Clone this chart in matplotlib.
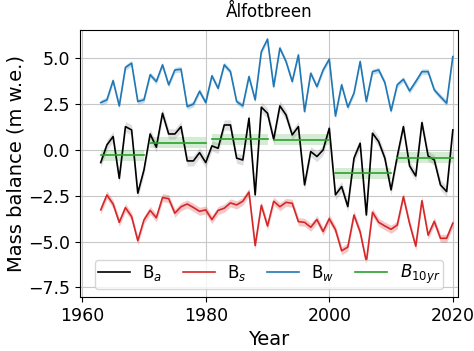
import numpy as np
import matplotlib
matplotlib.use('Agg')
import matplotlib.pyplot as plt

# years of the record
years = list(range(1963, 2021))

# winter balance (m w.e.)
bw = [2.58, 2.73, 3.78, 2.40, 4.50, 4.73, 2.64, 2.73, 4.10, 3.73,
      4.64, 3.55, 4.36, 4.40, 2.36, 2.50, 3.20, 2.58, 4.04, 3.36,
      4.64, 4.27, 2.64, 2.40, 4.00, 2.73, 5.36, 6.04, 3.45, 5.55,
      4.82, 3.73, 5.18, 2.09, 4.18, 3.45, 4.36, 4.95, 1.85, 3.55,
      2.33, 3.10, 4.82, 2.64, 4.27, 4.36, 3.67, 2.13, 3.55, 3.85,
      3.22, 3.73, 4.27, 4.27, 3.27, 2.90, 2.55, 5.09]

# summer balance (m w.e.)
bs = [-3.27, -2.46, -2.95, -3.95, -3.15, -3.64, -4.95, -3.82, -3.30, -3.70,
      -2.60, -2.66, -3.45, -3.10, -2.95, -3.14, -3.35, -3.27, -3.80, -3.30,
      -3.18, -2.89, -3.00, -2.80, -2.30, -5.22, -3.02, -4.15, -2.80, -3.10,
      -2.86, -2.91, -3.91, -3.95, -4.22, -3.80, -4.45, -3.75, -4.35, -5.50,
      -5.30, -3.55, -4.48, -6.10, -3.40, -3.95, -4.15, -4.33, -4.10, -2.55,
      -4.02, -5.25, -2.77, -4.65, -3.90, -4.82, -4.82, -4.00]

# annual balance (m w.e.)
ba = [-0.69, 0.27, 0.73, -1.55, 1.27, 1.09, -2.36, -1.09, 0.87, 0.15,
      2.00, 0.87, 0.87, 1.27, -0.60, -0.60, -0.15, -0.69, 0.22, 0.09,
      1.36, 1.36, -0.45, -0.55, 1.73, -2.45, 2.33, 2.00, 0.58, 2.40,
      1.91, 0.82, 1.27, -1.91, -0.09, -0.36, 0.00, 1.18, -2.45, -2.00,
      -3.09, -0.45, 0.36, -3.55, 0.91, 0.45, -0.45, -2.18, -0.36, 1.27,
      -0.87, -1.42, 1.49, -0.33, -0.55, -1.91, -2.27, 1.09]

# decadal means
dec_start = [1963, 1971, 1981, 1991, 2001, 2011]
dec_end = [1970, 1980, 1990, 2000, 2010, 2020]
dec_val = [-0.29, 0.40, 0.58, 0.56, -1.26, -0.42]

fig = plt.figure(figsize=(4.74, 3.51), dpi=100)
ax = fig.add_axes([0.169, 0.154, 0.797, 0.761])

x = np.array(years)
for vals, band, err in [(ba, 'grey', 0.28), (bs, 'tab:red', 0.22), (bw, 'tab:blue', 0.15)]:
    v = np.array(vals)
    ax.fill_between(x, v - err, v + err, color=band, alpha=0.25, lw=0)

ax.plot(x, ba, color='k', lw=1.2, label='B$_a$')
ax.plot(x, bs, color='tab:red', lw=1.2, label='B$_s$')
ax.plot(x, bw, color='tab:blue', lw=1.2, label='B$_w$')

for i in range(len(dec_val)):
    ax.fill_between([dec_start[i], dec_end[i]], dec_val[i] - 0.3, dec_val[i] + 0.3,
                    color='tab:green', alpha=0.2, lw=0)
    ax.plot([dec_start[i], dec_end[i]], [dec_val[i], dec_val[i]], color='tab:green', lw=1.2,
            label='$B_{10yr}$' if i == 0 else None)

ax.set_xlim(1959.66, 2020.82)
ax.set_ylim(-8.02, 6.55)
ax.set_xticks([1960, 1980, 2000, 2020])
ax.set_yticks([-7.5, -5.0, -2.5, 0.0, 2.5, 5.0])
ax.grid(True, color='#c8c8c8', lw=0.8)
ax.set_axisbelow(True)
ax.tick_params(labelsize=12.5)
ax.set_xlabel('Year', fontsize=14, labelpad=4)
ax.set_ylabel('Mass balance (m w.e.)', fontsize=14, labelpad=2)
ax.set_title('Ålfotbreen', fontsize=12, pad=9)
ax.legend(loc='lower center', ncol=4, fontsize=12, borderaxespad=0.45, borderpad=0.2,
          handlelength=1.9, columnspacing=1.25, handletextpad=0.75)

fig.savefig('out.png', dpi=100)
